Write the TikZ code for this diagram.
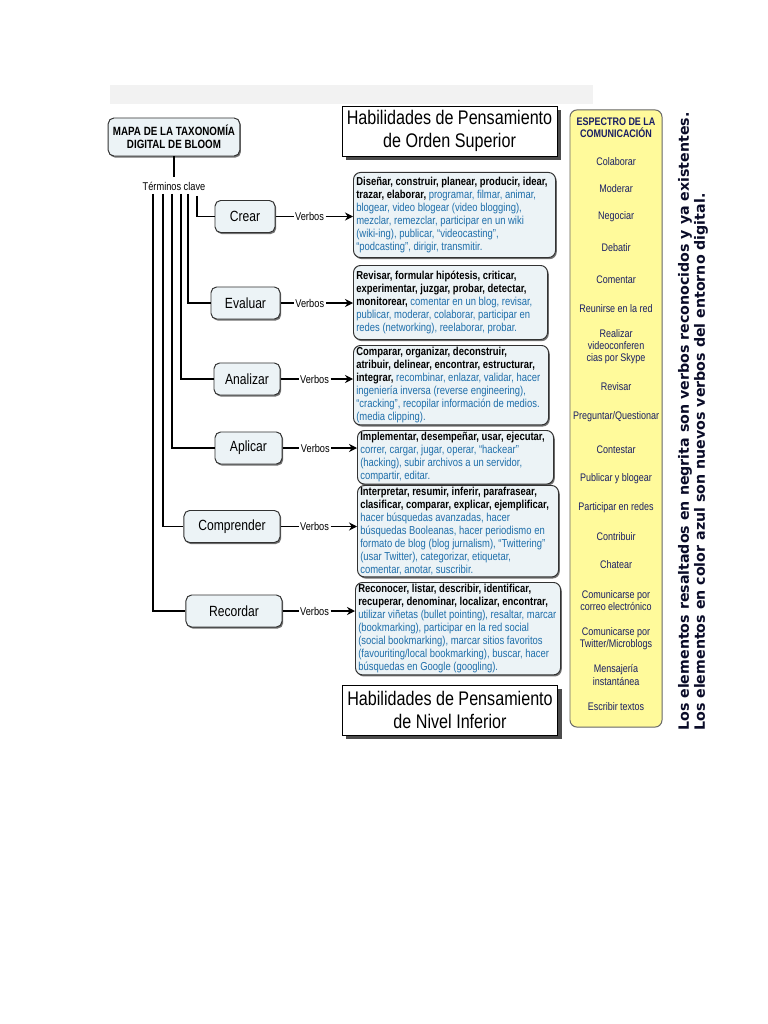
\documentclass[tikz,border=0pt]{standalone}
\usepackage{fontspec}
\setmainfont{Liberation Sans}[FakeStretch=0.82]
\newfontfamily\notefont{DejaVu Sans}
\usepackage{xcolor}
\usepackage{tikz}
\usetikzlibrary{arrows.meta, positioning, shadows}
\definecolor{levelfill}{RGB}{236, 243, 246}
\definecolor{edgegray}{RGB}{50, 50, 50}
\definecolor{newblue}{RGB}{30, 110, 170}
\definecolor{commyellow}{RGB}{255, 250, 155}
\definecolor{commnavy}{RGB}{25, 30, 100}
\definecolor{bandgray}{RGB}{242, 242, 242}
\newcommand{\azul}[1]{\textcolor{newblue}{#1}}

\begin{document}
\begin{tikzpicture}[x=0.025cm, y=-0.025cm,
        % --- TikZ Styles ---
        levelbox/.style={
            draw=edgegray, line width=0.7pt, fill=levelfill, rounded corners=4pt,
            minimum height=0.8cm, font=\fontsize{10.5}{12}\selectfont,
            drop shadow={shadow xshift=0.03cm, shadow yshift=-0.04cm, fill=black!55, opacity=1}
        },
        verbbox/.style={
            draw=edgegray, line width=0.7pt, fill=levelfill, rounded corners=5pt,
            anchor=north west, align=flush left, inner xsep=0.07cm, inner ysep=0.05cm,
            font=\fontsize{8.2}{9.2}\selectfont,
            drop shadow={shadow xshift=0.03cm, shadow yshift=-0.04cm, fill=black!55, opacity=1}
        },
        verblabel/.style={font=\fontsize{8}{9}\selectfont, inner sep=1pt},
        headbox/.style={
            draw, fill=white, align=center, font=\fontsize{14}{16}\selectfont,
            minimum width=5.375cm, minimum height=1.2cm,
            drop shadow={shadow xshift=0.1cm, shadow yshift=-0.1cm, fill=black!70, opacity=1}
        },
        commitem/.style={text=commnavy, align=center, font=\fontsize{7.8}{8.6}\selectfont},
        notetext/.style={rotate=90, anchor=west, inner sep=0pt, text=commnavy!40!black,
            font=\notefont\bfseries\fontsize{10.1}{11}\selectfont},
        link/.style={line width=0.8pt},
        arrow/.style={line width=0.9pt, -{Stealth[length=0.2cm, width=0.2cm]}}
    ]

    \fill[white] (0,0) rectangle (768,1024);
    \fill[bandgray] (110,85) rectangle (593,104);

    % --- 1. TITLE AND KEY TERMS ---
    \node[levelbox, minimum width=3.175cm, minimum height=0.95cm, align=center,
        font=\bfseries\fontsize{8.5}{9.5}\selectfont] (bloomtitle) at (174,137) {
        MAPA DE LA TAXONOMÍA\\ DIGITAL DE BLOOM
    };
    \node[font=\fontsize{8}{9}\selectfont] (terms) at (174,186) {Términos clave};

    % --- 2. LEVELS ---
    \node[levelbox, minimum width=1.5cm] (crear) at (245,216.5) {Crear};
    \node[levelbox, minimum width=1.725cm] (evaluar) at (245.5,303) {Evaluar};
    \node[levelbox, minimum width=1.65cm] (analizar) at (247,379) {Analizar};
    \node[levelbox, minimum width=1.675cm] (aplicar) at (248.5,448) {Aplicar};
    \node[levelbox, minimum width=2.4cm] (comprender) at (232,526.5) {Comprender};
    \node[levelbox, minimum width=2.4cm] (recordar) at (234,611) {Recordar};

    \node[verblabel, right=0.45cm of crear] (verbs1) {Verbos};
    \node[verblabel, right=0.33cm of evaluar] (verbs2) {Verbos};
    \node[verblabel, right=0.45cm of analizar] (verbs3) {Verbos};
    \node[verblabel, right=0.42cm of aplicar] (verbs4) {Verbos};
    \node[verblabel, right=0.45cm of comprender] (verbs5) {Verbos};
    \node[verblabel, right=0.4cm of recordar] (verbs6) {Verbos};

    % --- 3. VERB LISTS ---
    \node[headbox] (higher) at (449.5,131) {Habilidades de Pensamiento\\ de Orden Superior};

    \node[verbbox, text width=4.91cm, minimum height=2.125cm] (desc1) at (353,172) {
        \textbf{Diseñar, construir, planear, producir, idear,}\\
        \textbf{trazar, elaborar,} \azul{programar, filmar, animar,}\\
        \azul{blogear, video blogear (video blogging),}\\
        \azul{mezclar, remezclar, participar en un wiki}\\
        \azul{(wiki-ing), publicar, ``videocasting'',}\\
        \azul{``podcasting'', dirigir, transmitir.}
    };

    \node[verbbox, text width=4.71cm, minimum height=1.85cm] (desc2) at (353,265) {
        \textbf{Revisar, formular hipótesis, criticar,}\\
        \textbf{experimentar, juzgar, probar, detectar,}\\
        \textbf{monitorear,} \azul{comentar en un blog, revisar,}\\
        \azul{publicar, moderar, colaborar, participar en}\\
        \azul{redes (networking), reelaborar, probar.}
    };

    \node[verbbox, text width=4.735cm, minimum height=1.925cm] (desc3) at (353,345) {
        \textbf{Comparar, organizar, deconstruir,}\\
        \textbf{atribuir, delinear, encontrar, estructurar,}\\
        \textbf{integrar,} \azul{recombinar, enlazar, validar, hacer}\\
        \azul{ingeniería inversa (reverse engineering),}\\
        \azul{``cracking'', recopilar información de medios.}\\
        \azul{(media clipping).}
    };

    \node[verbbox, text width=4.76cm, minimum height=1.25cm] (desc4) at (357,430) {
        \textbf{Implementar, desempeñar, usar, ejecutar,}\\
        \azul{correr, cargar, jugar, operar, ``hackear''}\\
        \azul{(hacking), subir archivos a un servidor,}\\
        \azul{compartir, editar.}
    };

    \node[verbbox, text width=4.885cm, minimum height=2.25cm] (desc5) at (357,485) {
        \textbf{Interpretar, resumir, inferir, parafrasear,}\\
        \textbf{clasificar, comparar, explicar, ejemplificar,}\\
        \azul{hacer búsquedas avanzadas, hacer}\\
        \azul{búsquedas Booleanas, hacer periodismo en}\\
        \azul{formato de blog (blog jurnalism), ``Twittering''}\\
        \azul{(usar Twitter), categorizar, etiquetar,}\\
        \azul{comentar, anotar, suscribir.}
    };

    \node[verbbox, text width=4.985cm, minimum height=2.2cm] (desc6) at (355,582) {
        \textbf{Reconocer, listar, describir, identificar,}\\
        \textbf{recuperar, denominar, localizar, encontrar,}\\
        \mbox{\azul{utilizar viñetas (bullet pointing), resaltar, marcar}}\\
        \azul{(bookmarking), participar en la red social}\\
        \azul{(social bookmarking), marcar sitios favoritos}\\
        \azul{(favouriting/local bookmarking), buscar, hacer}\\
        \azul{búsquedas en Google (googling).}
    };

    \node[headbox, minimum height=1.25cm] (lower) at (450,710) {Habilidades de Pensamiento\\ de Nivel Inferior};

    % --- 4. COMMUNICATION SPECTRUM ---
    \node[draw=black!60, line width=0.7pt, fill=commyellow, rounded corners=5pt,
        minimum width=2.3cm, minimum height=15.425cm] (commbox) at (616,418.5) {};

    \node[commitem, font=\bfseries\fontsize{7.8}{8.6}\selectfont] (commtitle) at (616,128) {ESPECTRO DE LA\\ COMUNICACIÓN};
    \node[commitem] (comm1) at (616,162) {Colaborar};
    \node[commitem] (comm2) at (616,189) {Moderar};
    \node[commitem] (comm3) at (616,217) {Negociar};
    \node[commitem] (comm4) at (616,248) {Debatir};
    \node[commitem] (comm5) at (616,280) {Comentar};
    \node[commitem] (comm6) at (616,309) {Reunirse en la red};
    \node[commitem] (comm7) at (616,347) {Realizar\\ videoconferen\\ cias por Skype};
    \node[commitem] (comm8) at (616,387) {Revisar};
    \node[commitem] (comm9) at (616,417) {Preguntar/Questionar};
    \node[commitem] (comm10) at (616,450) {Contestar};
    \node[commitem] (comm11) at (616,479) {Publicar y blogear};
    \node[commitem] (comm12) at (616,508) {Participar en redes};
    \node[commitem] (comm13) at (616,537) {Contribuir};
    \node[commitem] (comm14) at (616,565) {Chatear};
    \node[commitem] (comm15) at (616,601) {Comunicarse por\\ correo electrónico};
    \node[commitem] (comm16) at (616,639) {Comunicarse por\\ Twitter/Microblogs};
    \node[commitem] (comm17) at (616,675) {Mensajería\\ instantánea};
    \node[commitem] (comm18) at (616,707) {Escribir textos};

    % --- 5. NOTES ---
    \node[notetext] (note1) at (685,731) {Los elementos resaltados en negrita son verbos reconocidos y ya existentes.};
    \node[notetext] (note2) at (701,731) {Los elementos en color azul son nuevos verbos del entorno digital.};

% --- CONNECTIONS ---

    % Tree from the key terms down to each level
    \draw[link] (bloomtitle.south) -- (terms.north);
    \coordinate (t1) at (197,196);
    \coordinate (t2) at (188,194);
    \coordinate (t3) at (181,194);
    \coordinate (t4) at (172,194);
    \coordinate (t5) at (163,194);
    \coordinate (t6) at (153,194);
    \draw[link] (t1) |- (crear.west);
    \draw[link] (t2) |- (evaluar.west);
    \draw[link] (t3) |- (analizar.west);
    \draw[link] (t4) |- (aplicar.west);
    \draw[link] (t5) |- (comprender.west);
    \draw[link] (t6) |- (recordar.west);

    % Levels to their verb lists
    \draw[link] (crear.east) -- (verbs1.west);
    \draw[link] (evaluar.east) -- (verbs2.west);
    \draw[link] (analizar.east) -- (verbs3.west);
    \draw[link] (aplicar.east) -- (verbs4.west);
    \draw[link] (comprender.east) -- (verbs5.west);
    \draw[link] (recordar.east) -- (verbs6.west);

    \draw[arrow] (verbs1.east) -- (verbs1.east -| desc1.west);
    \draw[arrow] (verbs2.east) -- (verbs2.east -| desc2.west);
    \draw[arrow] (verbs3.east) -- (verbs3.east -| desc3.west);
    \draw[arrow] (verbs4.east) -- (verbs4.east -| desc4.west);
    \draw[arrow] (verbs5.east) -- (verbs5.east -| desc5.west);
    \draw[arrow] (verbs6.east) -- (verbs6.east -| desc6.west);

    \end{tikzpicture}
\end{document}
